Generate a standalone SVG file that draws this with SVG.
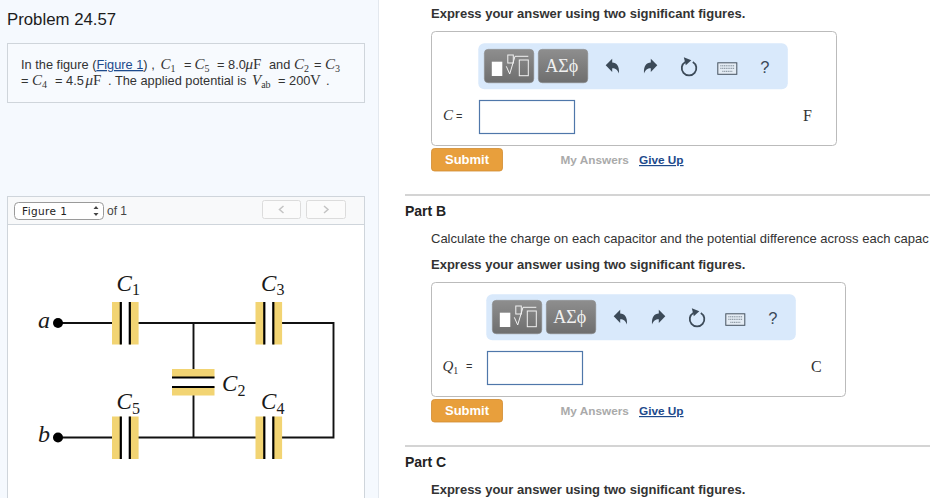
<svg xmlns="http://www.w3.org/2000/svg" xmlns:xlink="http://www.w3.org/1999/xlink" width="930" height="498" viewBox="0 0 930 498">
<style>
text{font-family:"Liberation Sans",Arial,sans-serif;fill:#333}
.m{font-family:"Liberation Serif","Times New Roman",serif;font-size:15px;fill:#333}
.u{font-family:"Liberation Serif","Times New Roman",serif;font-size:16px;fill:#333}
.i{font-style:italic}
.s{font-size:10px}
.t{font-size:12.8px}
.l{font-size:13px}
.b{font-size:13px;font-weight:bold}
.h{font-size:14px;font-weight:bold;fill:#222}
.c{font-family:"Liberation Serif","Times New Roman",serif;font-style:italic;font-size:23px;fill:#1a1a1a}
.ab{font-family:"Liberation Serif","Times New Roman",serif;font-style:italic;font-size:24px;fill:#1a1a1a}
.cs{font-family:"Liberation Serif","Times New Roman",serif;font-size:16px;fill:#1a1a1a}
.y{fill:#f2d473}
.w{fill:none;stroke:#111;stroke-width:1.9}
.p{fill:none;stroke:#000;stroke-width:2.2}
.card{fill:#fff;stroke:#bbb;stroke-width:1}
.bar{fill:#d9e9fb}
.btn{fill:url(#g);stroke:#8a8a8a;stroke-width:.5}
.ico{fill:none;stroke:#f2f2f2;stroke-width:1}
.dk{fill:#3c4a58}
.in{fill:#fff;stroke:#4f77aa;stroke-width:1.2}
.sub{fill:#e89f3c;stroke:#d08b30;stroke-width:.8}
.subt{font-size:13px;font-weight:bold;fill:#fff}
.my{font-size:11.8px;font-weight:bold;fill:#aaa}
.gu{font-size:11.8px;font-weight:bold;fill:#1d4a8c;text-decoration:underline}
.sep{stroke:#d4d4d4;stroke-width:1.8}
</style>
<defs>
<linearGradient id="g" x1="0" y1="0" x2="0" y2="1"><stop offset="0" stop-color="#8e8e8e"/><stop offset="1" stop-color="#6e6e6e"/></linearGradient>
<g id="toolbar">
<rect class="bar" width="309.500" height="46" rx="6"/>
<rect class="btn" x="6" y="6" width="49.500" height="33.500" rx="4"/>
<rect x="13.500" y="18.400" width="10.500" height="14.300" fill="#fff"/>
<rect class="ico" x="29.500" y="11.700" width="5.500" height="8"/>
<path class="ico" d="M28 23l3.400 7.700 5.300-17.700h13.300"/>
<rect class="ico" x="41" y="16.700" width="9" height="15.700"/>
<rect class="btn" x="60" y="6" width="49.500" height="33.500" rx="4"/>
<text x="67" y="28.300" style="font-family:'Liberation Serif',serif;font-size:18px;fill:#f0f0f0">ΑΣϕ</text>
<path class="dk" d="M127.400 22l6.500-6.500v3.800c4.500 0 7.300 3.500 6.800 11-1.500-3.800-3.200-5.400-6.800-5.400v3.800z"/>
<path class="dk" d="M179 22l-6.500-6.500v3.800c-4.500 0-7.300 3.500-6.800 11 1.500-3.800 3.200-5.400 6.800-5.400v3.800z"/>
<path d="M207 18.600a7.300 7.300 0 1 0 7.500 0" fill="none" stroke="#3c4a58" stroke-width="1.800"/>
<path class="dk" d="M205.500 14l7.500 3-5.500 5z"/>
<rect x="239.500" y="19.500" width="19" height="11.500" fill="#e4ecf4" stroke="#46535f" stroke-width="1"/>
<path d="M242 22.500h14M242 25h14M244 28h10" stroke="#7b8792" stroke-width="1" stroke-dasharray="1.200 .6" fill="none"/>
<text x="286.500" y="30" style="font-size:16.500px;fill:#3c4a58" text-anchor="middle">?</text>
</g>
<g id="cv"><rect class="y" x="0" y="0" width="9.300" height="42.500"/><rect class="y" x="17.300" y="0" width="9.300" height="42.500"/><path class="p" d="M8.800 0v42.500M17.800 0v42.500"/></g>
</defs>

<rect width="930" height="498" fill="#fff"/>
<rect width="378" height="498" fill="#f5f9fe"/>
<path d="M378.500 0V498" stroke="#e3e8ee" stroke-width="1"/>

<g id="problem-title"><text x="7" y="25" style="font-size:16.800px;fill:#1c1c1c">Problem 24.57</text></g>

<g id="problem-statement">
<rect x="7.500" y="43.500" width="357" height="59" fill="#f7fafe" stroke="#cfd5db"/>
<text class="t" x="21" y="69">In the figure (<tspan text-decoration="underline" style="fill:#1d4a8c">Figure 1</tspan>) ,</text>
<text class="m i" x="160.500" y="69">C<tspan class="s" dy="2.500" font-style="normal">1</tspan></text>
<text class="t" x="184" y="69">=</text>
<text class="m i" x="194.500" y="69">C<tspan class="s" dy="2.500" font-style="normal">5</tspan></text>
<text class="t" x="217" y="69">= 8.0</text>
<text class="m" x="245.500" y="69"><tspan class="i">μ</tspan>F</text>
<text class="t" x="269" y="69">and</text>
<text class="m i" x="294" y="69">C<tspan class="s" dy="2.500" font-style="normal">2</tspan></text>
<text class="t" x="314" y="69">=</text>
<text class="m i" x="325" y="69">C<tspan class="s" dy="2.500" font-style="normal">3</tspan></text>
<text class="t" x="21" y="85">=</text>
<text class="m i" x="32" y="85">C<tspan class="s" dy="2.500" font-style="normal">4</tspan></text>
<text class="t" x="55" y="85">= 4.5</text>
<text class="m" x="85.500" y="85"><tspan class="i">μ</tspan>F</text>
<text class="t" x="108" y="85">. The applied potential is</text>
<text class="m i" x="252" y="85">V<tspan class="s" dy="2.500" font-style="normal">ab</tspan></text>
<text class="t" x="278" y="85">= 200</text>
<text class="m" x="310" y="85">V</text>
<text class="t" x="326" y="85">.</text>
</g>

<g id="figure-panel">
<rect x="7.500" y="196.500" width="357" height="302" fill="#fff" stroke="#cfd5db"/>
<rect x="8" y="197" width="356" height="27" fill="#f8f9fa"/>
<path d="M8 224.500H364" stroke="#cfd5db"/>
<rect x="14.500" y="202.500" width="89" height="17" rx="4" fill="#fff" stroke="#9a9a9a"/>
<text x="22" y="215" style="font-family:'DejaVu Sans',sans-serif;font-size:10.500px;letter-spacing:.4px;fill:#222">Figure 1</text>
<path d="M93.500 209l2.500-3 2.500 3zM93.500 213l2.500 3 2.500-3z" fill="#444"/>
<text x="107" y="215" style="font-size:12px;fill:#444">of 1</text>
<rect x="262.500" y="200.500" width="38" height="18" rx="2" fill="#fbfbfb" stroke="#dcdcdc"/>
<rect x="306.500" y="200.500" width="39" height="18" rx="2" fill="#fbfbfb" stroke="#dcdcdc"/>
<path d="M283.500 206l-4 3.500 4 3.500M324 206l4 3.500-4 3.500" fill="none" stroke="#c4c4c4" stroke-width="1.500"/>
</g>

<g id="connectors">
<path class="w" d="M58 323H121M130 323H264M273 323H333.500V437.500H273M264 437.500H130M121 437.500H58"/>
<path class="w" d="M193.500 323V377M193.500 387V437.500"/>
</g>
<g id="terminal-a"><circle cx="58" cy="323" r="5" fill="#000"/><text class="ab" x="38" y="328">a</text></g>
<g id="terminal-b"><circle cx="58" cy="437.500" r="5" fill="#000"/><text class="ab" x="38" y="442">b</text></g>
<g id="C1"><use xlink:href="#cv" href="#cv" x="112" y="302"/><text class="c" x="116.500" y="290.500">C</text><text class="cs" x="132" y="295">1</text></g>
<g id="C3"><use xlink:href="#cv" href="#cv" x="255.500" y="302"/><text class="c" x="261" y="290.500">C</text><text class="cs" x="276.500" y="295">3</text></g>
<g id="C5"><use xlink:href="#cv" href="#cv" x="112" y="416.500"/><text class="c" x="116.500" y="409">C</text><text class="cs" x="132" y="413.500">5</text></g>
<g id="C4"><use xlink:href="#cv" href="#cv" x="255.500" y="416.500"/><text class="c" x="261" y="409">C</text><text class="cs" x="276.500" y="413.500">4</text></g>
<g id="C2">
<rect class="y" x="172" y="369" width="42.500" height="9"/><rect class="y" x="172" y="386.500" width="42.500" height="9"/>
<path class="p" d="M172 377.500h42.500M172 387h42.500"/>
<text class="c" x="222" y="391">C</text><text class="cs" x="237.500" y="396">2</text>
</g>

<g id="part-a">
<text class="b" x="431" y="18">Express your answer using two significant figures.</text>
<rect class="card" x="431.500" y="31.500" width="405" height="114" rx="4"/>
<use xlink:href="#toolbar" href="#toolbar" x="478.300" y="43.300"/>
<text class="m i" x="443" y="120">C<tspan font-style="normal" style="font-family:'Liberation Sans',sans-serif;font-size:11px"> =</tspan></text>
<rect class="in" x="479.500" y="100.500" width="95" height="33"/>
<text class="u" x="803" y="120.500">F</text>
<rect class="sub" x="431.500" y="148.500" width="71" height="22.500" rx="3"/>
<text class="subt" x="467" y="164" text-anchor="middle">Submit</text>
<text class="my" x="560.500" y="164">My Answers</text>
<text class="gu" x="639" y="164">Give Up</text>
</g>

<g id="part-b">
<path class="sep" d="M405 195H930"/>
<text class="h" x="405" y="216">Part B</text>
<text class="l" x="431" y="243">Calculate the charge on each capacitor and the potential difference across each capac</text>
<text class="b" x="431" y="269">Express your answer using two significant figures.</text>
<rect class="card" x="431.500" y="282.500" width="414" height="114" rx="4"/>
<use xlink:href="#toolbar" href="#toolbar" x="486.300" y="294.300"/>
<text class="m i" x="442.500" y="371">Q<tspan class="s" dy="3" font-style="normal">1</tspan></text>
<text x="466" y="370" style="font-size:11px">=</text>
<rect class="in" x="487.500" y="351.500" width="95" height="33"/>
<text class="u" x="811" y="371.500">C</text>
<rect class="sub" x="431.500" y="399.500" width="71" height="22.500" rx="3"/>
<text class="subt" x="467" y="415" text-anchor="middle">Submit</text>
<text class="my" x="560.500" y="415">My Answers</text>
<text class="gu" x="639" y="415">Give Up</text>
</g>

<g id="part-c">
<path class="sep" d="M405 446H930"/>
<text class="h" x="405" y="466.500">Part C</text>
<text class="b" x="431" y="494">Express your answer using two significant figures.</text>
</g>
</svg>
